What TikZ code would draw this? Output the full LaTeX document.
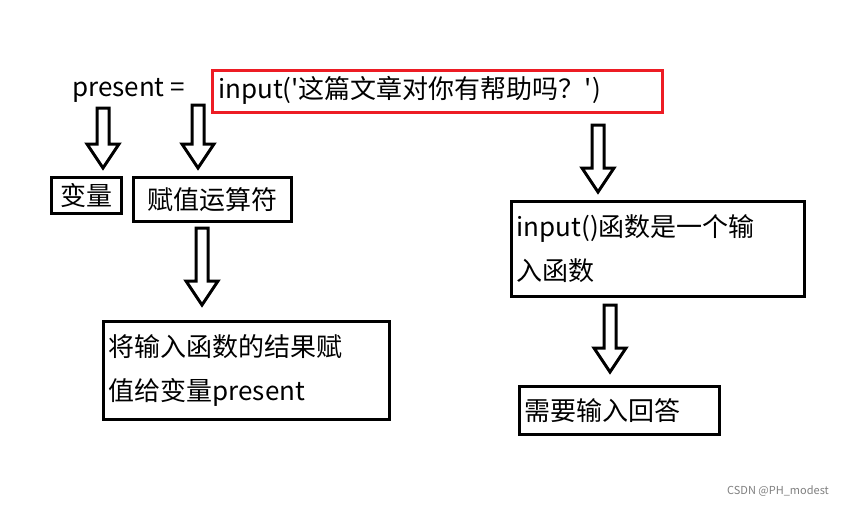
\documentclass[tikz,border=0pt]{standalone}
\usepackage{fontspec}
\newfontfamily\cjk{Noto Sans CJK SC}
\definecolor{boxred}{RGB}{237,28,36}
\newcommand{\hollowdown}[3]{% x, top y, bottom y
  \draw[line width=3pt, line join=miter]
    (#1-6,#2) -- (#1+6,#2) -- (#1+6,#3-24) -- (#1+16,#3-24) -- (#1,#3)
    -- (#1-16,#3-24) -- (#1-6,#3-24) -- cycle;}
\begin{document}
\begin{tikzpicture}[x=1pt, y=-1pt,
    every node/.style={inner sep=0pt, font=\cjk\fontsize{26}{44}\selectfont},
    box/.style={draw, line width=3pt, anchor=north west, align=left, inner sep=5pt}
  ]
  \useasboundingbox[fill=white] (0,0) rectangle (844,507);

  % top line
  \node[anchor=west] (assign) at (72,90) {present =};
  \draw[boxred, line width=3pt] (212,70) rectangle (662,112);
  \node[anchor=west] (call) at (218,90) {input('这篇文章对你有帮助吗？')};

  % boxes
  \node[box, minimum width=70pt, minimum height=36pt] (var) at (50,176) {变量};
  \node[box, minimum width=158pt, minimum height=44pt] (op) at (132,176) {赋值运算符};
  \node[box, text width=276pt, minimum height=98pt] (res) at (102,320) {将输入函数的结果赋\\值给变量present};
  \node[box, text width=283pt, minimum height=95pt] (func) at (510,200) {input()函数是一个输\\入函数};
  \node[box, text width=190pt, minimum height=48pt] (ans) at (518,385) {需要输入回答};

  % arrows
  \hollowdown{103}{108}{168}
  \hollowdown{198}{105}{168}
  \hollowdown{598}{125}{192}
  \hollowdown{202}{228}{305}
  \hollowdown{610}{305}{372}

  \node[anchor=east, text=gray, font=\cjk\fontsize{11}{13}\selectfont] (mark) at (829,491) {CSDN @PH\_modest};
\end{tikzpicture}
\end{document}
